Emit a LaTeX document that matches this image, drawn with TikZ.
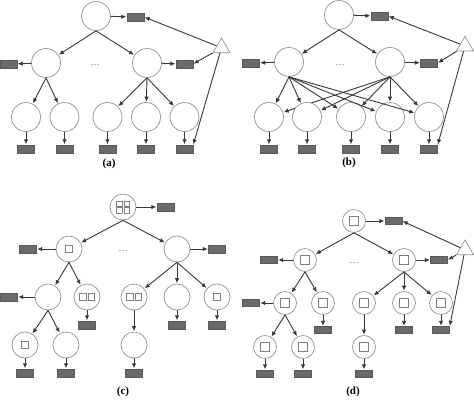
\documentclass[tikz,border=0pt]{standalone}
\usepackage{fontspec}
\setmainfont{Liberation Serif}
\usetikzlibrary{arrows.meta,shapes.geometric}

\newcommand{\sq}[1][5pt]{{\color{gray}\fboxsep=0pt\fboxrule=0.6pt\fbox{\rule{0pt}{#1}\hspace{#1}}}}

\begin{document}
\begin{tikzpicture}[x=1pt,y=-1pt,->,>={Latex[length=5pt,width=4.5pt]},shorten >=0.5pt,
	main node/.style={circle,draw=gray!85,line width=0.7pt,fill=white,minimum size=29pt,inner sep=0pt},
	mid node/.style={main node,minimum size=26pt},
	small node/.style={main node,minimum size=23pt},
	out box/.style={rectangle,draw=black!65,fill=black!58,minimum width=17pt,minimum height=8pt,inner sep=0pt},
	tri/.style={regular polygon,regular polygon sides=3,draw=gray!85,line width=0.7pt,fill=white,minimum size=19.6pt,inner sep=0pt},
	dots/.style={font=\small,text=black!70,inner sep=0pt},
	caption/.style={font=\fontsize{11}{13}\selectfont\bfseries,inner sep=0pt},
	every edge/.style={draw=black!78,line width=0.9pt}]
	\useasboundingbox (0,0) rectangle (474,400);

	% (a)
	\node[main node] (a0) at (96,16) {};
	\node[out box] (ar0) at (135.5,17) {};
	\node[main node] (a1) at (46,63) {};
	\node[main node] (a2) at (147,63) {};
	\node[out box] (ar1) at (8.5,64) {};
	\node[out box] (ar2) at (184.5,64) {};
	\node[dots] (ad) at (95,65) {\dots};
	\node[tri] (at) at (221.5,47.8) {};
	\foreach \n/\x in {11/26,12/64.5,21/107.5,22/146,23/184.5} {
		\node[main node] (a\n) at (\x,117) {};
		\node[out box] (ar\n) at (\x,149) {};
		\path (a\n.south) edge (ar\n.north);
	}
	\node[caption] (acap) at (109,164) {(a)};

	\path
	(a0) edge (ar0)
	(a0.south) edge (a1) edge (a2)
	(a1) edge (ar1)
	(a2) edge (ar2)
	(a1.south) edge (a11) edge (a12)
	(a2.south) edge (a21) edge (a22) edge (a23)
	(at) edge (ar0.east) edge (ar2.east) edge (ar23.north east)
	;

	% (b)
	\node[main node] (b0) at (339,15) {};
	\node[out box] (br0) at (379.5,16) {};
	\node[main node] (b1) at (289,62) {};
	\node[main node] (b2) at (390,62) {};
	\node[out box] (br1) at (251,63) {};
	\node[out box] (br2) at (429,63) {};
	\node[dots] (bd) at (340,65) {\dots};
	\node[tri] (bt) at (465,46) {};
	\foreach \n/\x in {1/269,2/307,3/351,4/390,5/429} {
		\node[main node] (b2\n) at (\x,117) {};
		\node[out box] (br2\n) at (\x,149) {};
		\path (b2\n.south) edge (br2\n.north)
		(b1.south) edge (b2\n)
		(b2.south) edge (b2\n);
	}
	\node[caption] (bcap) at (349,163) {(b)};

	\path
	(b0) edge (br0)
	(b0.south) edge (b1) edge (b2)
	(b1) edge (br1)
	(b2) edge (br2)
	(bt) edge (br0.east) edge (br2.east) edge (br25.north east)
	;

	% (c)
	\node[mid node,align=center,font=\fontsize{5}{6.5}\selectfont] (c0) at (123,207) {\sq\kern1.5pt\sq\\[0pt]\sq\kern1.5pt\sq};
	\node[out box] (cr0) at (165.5,207) {};
	\node[mid node] (c1) at (69,249) {\sq[6pt]};
	\node[mid node] (c2) at (177,249) {};
	\node[out box] (cr1) at (28,249) {};
	\node[out box] (cr2) at (217,249) {};
	\node[dots] (cd) at (123,251) {\dots};
	\node[mid node] (c11) at (48,297) {};
	\node[mid node] (c12) at (87,297) {\sq[6pt]\kern1pt\sq[6pt]};
	\node[mid node] (c21) at (134,297) {\sq[6pt]\kern1pt\sq[6pt]};
	\node[mid node] (c22) at (177,297) {};
	\node[mid node] (c23) at (217,297) {\sq[6pt]};
	\node[out box] (cr11) at (9,297) {};
	\node[out box] (cr12) at (87,325) {};
	\node[out box] (cr22) at (177,325) {};
	\node[out box] (cr23) at (217,325) {};
	\node[mid node] (c111) at (25,345) {\sq[6pt]};
	\node[mid node] (c112) at (66,345) {};
	\node[mid node] (c211) at (134,345) {};
	\node[out box] (cr111) at (25,373) {};
	\node[out box] (cr112) at (66,373) {};
	\node[out box] (cr211) at (134,373) {};
	\node[caption] (ccap) at (123,392) {(c)};

	\path
	(c0) edge (cr0)
	(c0.south) edge (c1) edge (c2)
	(c1) edge (cr1)
	(c2) edge (cr2)
	(c1.south) edge (c11) edge (c12)
	(c2.south) edge (c21) edge (c22) edge (c23)
	(c11) edge (cr11)
	(c12.south) edge (cr12.north)
	(c22.south) edge (cr22.north)
	(c23.south) edge (cr23.north)
	(c11.south) edge (c111) edge (c112)
	(c21.south) edge (c211.north)
	(c111.south) edge (cr111.north)
	(c112.south) edge (cr112.north)
	(c211.south) edge (cr211.north)
	;

	% (d)
	\node[small node] (d0) at (354,221) {\sq[8pt]};
	\node[out box,minimum height=7pt] (dr0) at (393.5,221) {};
	\node[tri] (dt) at (465,249.8) {};
	\node[small node] (d1) at (305,260) {\sq[8pt]};
	\node[small node] (d2) at (404,260) {\sq[8pt]};
	\node[out box,minimum height=7pt] (dr1) at (269,260) {};
	\node[out box,minimum height=7pt] (dr2) at (439,260) {};
	\node[dots] (dd) at (354,263) {\dots};
	\foreach \n/\x in {11/285,12/323,21/364,22/404,23/441} {
		\node[small node] (d\n) at (\x,303) {\sq[8pt]};
	}
	\node[out box,minimum height=7pt] (dr11) at (251,303) {};
	\node[out box,minimum height=7pt] (dr12) at (323,330) {};
	\node[out box,minimum height=7pt] (dr22) at (404,330) {};
	\node[out box,minimum height=7pt] (dr23) at (441,330) {};
	\node[small node] (d111) at (265,347) {\sq[8pt]};
	\node[small node] (d112) at (303,347) {\sq[8pt]};
	\node[small node] (d211) at (364,347) {\sq[8pt]};
	\node[out box,minimum height=7pt] (dr111) at (265,373.5) {};
	\node[out box,minimum height=7pt] (dr112) at (303,373.5) {};
	\node[out box,minimum height=7pt] (dr211) at (364,373.5) {};
	\node[caption] (dcap) at (353,392) {(d)};

	\path
	(d0) edge (dr0)
	(d0.south) edge (d1) edge (d2)
	(d1) edge (dr1)
	(d2) edge (dr2)
	(d1.south) edge (d11) edge (d12)
	(d2.south) edge (d21) edge (d22) edge (d23)
	(d11) edge (dr11)
	(d12.south) edge (dr12.north)
	(d22.south) edge (dr22.north)
	(d23.south) edge (dr23.north)
	(d11.south) edge (d111) edge (d112)
	(d21.south) edge (d211.north)
	(d111.south) edge (dr111.north)
	(d112.south) edge (dr112.north)
	(d211.south) edge (dr211.north)
	(dt) edge (dr0.east) edge (dr2.east) edge (dr23.north east)
	;
\end{tikzpicture}
\end{document}
